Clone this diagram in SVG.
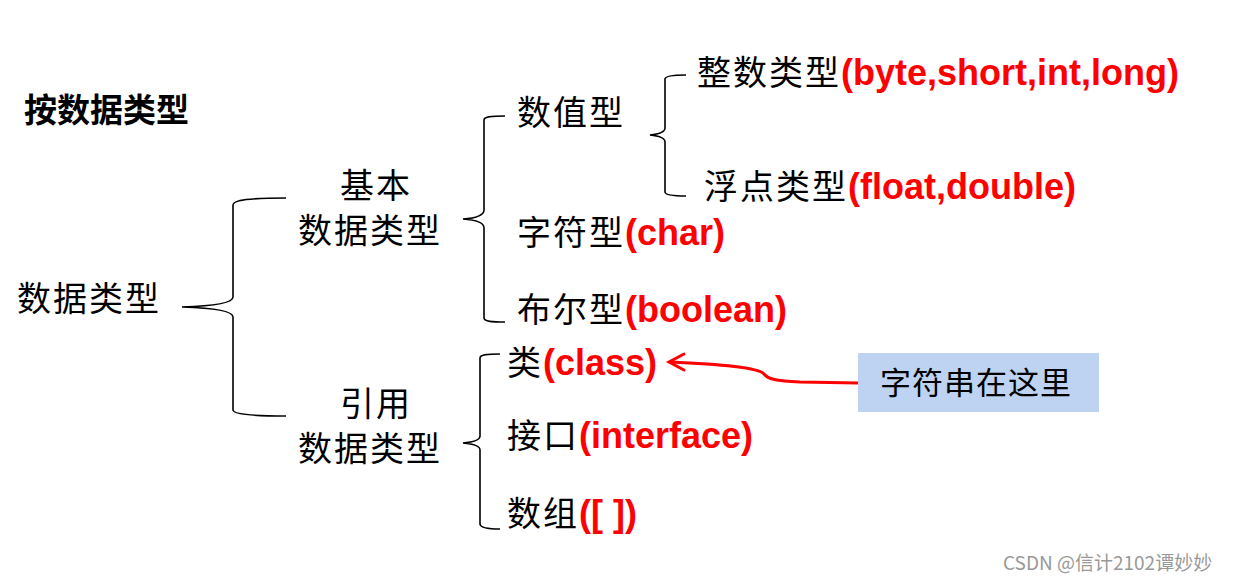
<svg xmlns="http://www.w3.org/2000/svg" width="1236" height="584" viewBox="0 0 1236 584">
<style>
.c{font-family:"Noto Sans CJK SC",sans-serif;font-size:34px;letter-spacing:2px;fill:#000}
.r{font-family:"Liberation Sans",Arial,sans-serif;font-size:36px;letter-spacing:0;font-weight:bold;fill:#f00}
.b{fill:none;stroke:#000;stroke-width:1.6}
</style>
<rect width="1236" height="584" fill="#fff"/>
<text x="24" y="122" style="font-family:'Noto Sans CJK SC',sans-serif;font-size:33px;font-weight:bold">按数据类型</text>
<g id="root"><text class="c" x="17" y="311">数据类型</text></g>
<g id="basic"><text class="c" x="340" y="198">基本</text><text class="c" x="298" y="243">数据类型</text></g>
<g id="ref"><text class="c" x="340" y="416">引用</text><text class="c" x="298" y="461">数据类型</text></g>
<g id="num"><text class="c" x="517" y="125">数值型</text></g>
<g id="int"><text class="c" x="697" y="85">整数类型<tspan class="r">(byte,short,int,long)</tspan></text></g>
<g id="float"><text class="c" x="704" y="199">浮点类型<tspan class="r">(float,double)</tspan></text></g>
<g id="char"><text class="c" x="517" y="245">字符型<tspan class="r">(char)</tspan></text></g>
<g id="bool"><text class="c" x="517" y="322">布尔型<tspan class="r">(boolean)</tspan></text></g>
<g id="class"><text class="c" x="507" y="375">类<tspan class="r">(class)</tspan></text></g>
<g id="iface"><text class="c" x="507" y="448">接口<tspan class="r">(interface)</tspan></text></g>
<g id="arr"><text class="c" x="507" y="526">数组<tspan class="r">([ ])</tspan></text></g>
<g id="note"><rect x="858" y="353" width="241" height="59" fill="#bdd3f1"/><text class="c" x="880" y="394" style="font-size:31px;letter-spacing:1px">字符串在这里</text></g>
<g id="connectors">
<path class="b" d="M286,198 C250,198 233,200 233,205 L233,297 C233,303 215,306 182,307 C215,308 233,311 233,317 L233,410 C233,414 250,416 286,416"/>
<path class="b" d="M505,116 C490,116 484,117 484,120 L484,210 C484,215 478,218 463,219 C478,220 484,223 484,228 L484,318 C484,321 490,322 505,322"/>
<path class="b" d="M686,75 C672,75 665,76 665,79 L665,128 C665,132 660,134 650,135 C660,136 665,138 665,142 L665,192 C665,195 672,196 686,196"/>
<path class="b" d="M500,354 C486,354 480,355 480,358 L480,436 C480,440 475,442 463,443 C475,444 480,446 480,450 L480,524 C480,527 486,529 500,529"/>
<path d="M858,383 L800,382 C775,381 768,379 764,374 C760,368 720,364 670,362" fill="none" stroke="#f00" stroke-width="3"/>
<path d="M684,354 L669,362 L684,370" fill="none" stroke="#f00" stroke-width="3" stroke-linecap="round"/>
</g>
<text x="1003" y="570" style="font-family:'Noto Sans CJK SC',sans-serif;font-size:19px;fill:#999">CSDN @信计2102谭妙妙</text>
</svg>
